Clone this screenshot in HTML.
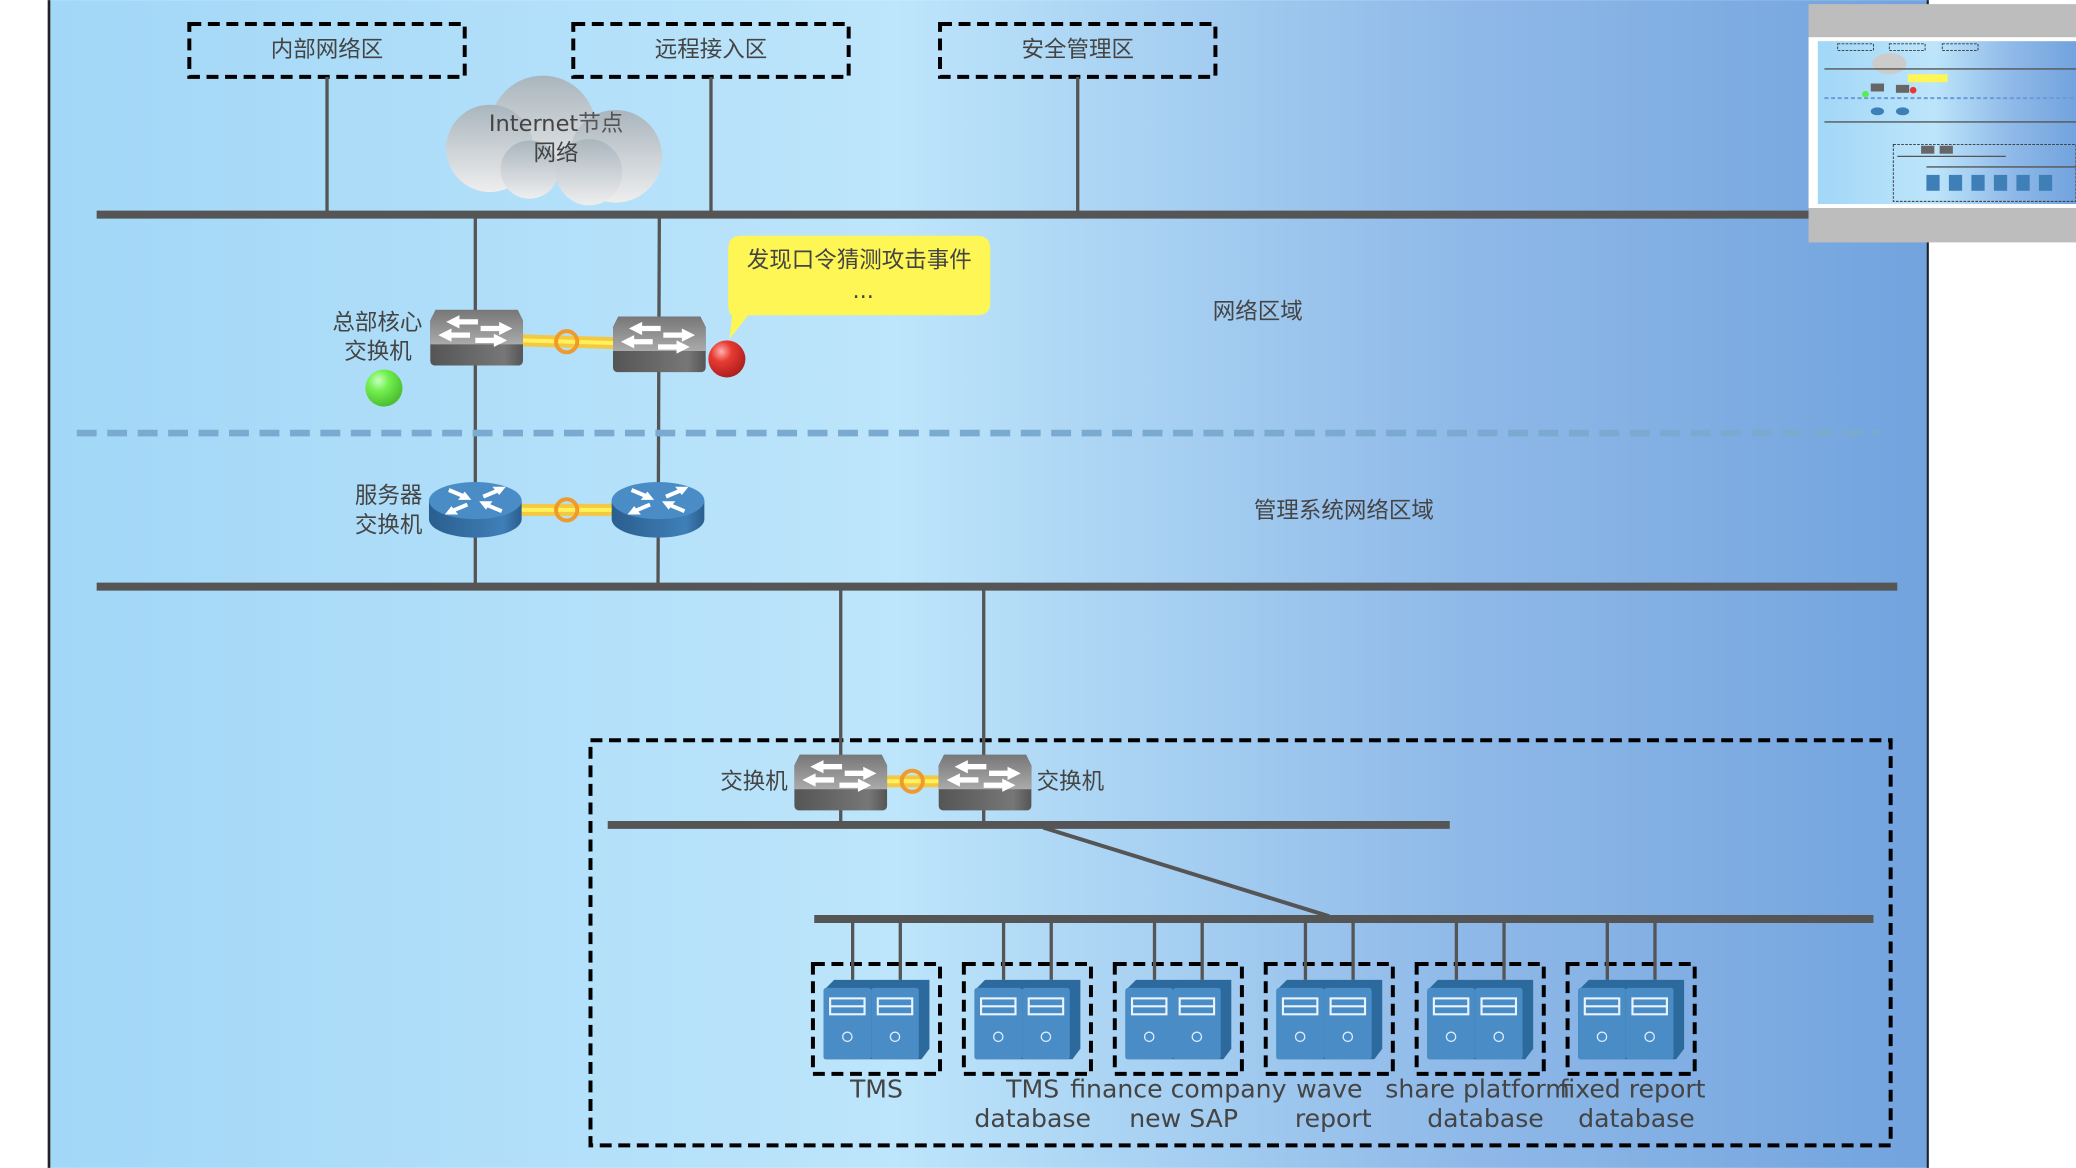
<!DOCTYPE html>
<html><head><meta charset="utf-8"><style>
html,body{margin:0;padding:0;background:#fff;overflow:hidden}
svg{display:block}
text{font-family:"DejaVu Sans","Liberation Sans","Noto Sans CJK SC",sans-serif;fill:#444}
</style></head><body>
<svg width="2076" height="1168" viewBox="0 0 1568 882" xmlns="http://www.w3.org/2000/svg">
<defs>
<linearGradient id="bg" x1="0" x2="1" y1="0" y2="0">
<stop offset="0" stop-color="#a2d7f7"/><stop offset="0.45" stop-color="#bde5fb"/><stop offset="0.75" stop-color="#8fb9e8"/><stop offset="1" stop-color="#72a3de"/>
</linearGradient>
<linearGradient id="cloud" x1="0" x2="0" y1="0" y2="1"><stop offset="0" stop-color="#a9b5bd"/><stop offset="1" stop-color="#eeeeee"/></linearGradient>
<linearGradient id="swtop" x1="0" x2="0" y1="0" y2="1"><stop offset="0" stop-color="#777"/><stop offset="1" stop-color="#aaa"/></linearGradient>
<linearGradient id="swside" x1="0" x2="1"><stop offset="0" stop-color="#555"/><stop offset="0.8" stop-color="#777"/><stop offset="1" stop-color="#555"/></linearGradient>
<linearGradient id="rtside" x1="0" x2="1"><stop offset="0" stop-color="#2a5e8e"/><stop offset="0.8" stop-color="#3f7fb8"/><stop offset="1" stop-color="#2a5e8e"/></linearGradient>
<radialGradient id="green" cx="0.35" cy="0.3" r="0.7"><stop offset="0" stop-color="#c8ffc0"/><stop offset="0.4" stop-color="#74f050"/><stop offset="1" stop-color="#4cc030"/></radialGradient>
<radialGradient id="red" cx="0.35" cy="0.3" r="0.7"><stop offset="0" stop-color="#ffb0b0"/><stop offset="0.4" stop-color="#e83a30"/><stop offset="1" stop-color="#b02020"/></radialGradient>
<g id="sw">
<path d="M4 0 H66 L70 8 V38 Q70 42 66 42 H4 Q0 42 0 38 V8 Z" fill="url(#swside)"/>
<path d="M4 0 H66 L70 8 V26 H0 V8 Z" fill="url(#swtop)"/>
<g fill="#fff">
<polygon points="12,9 22,4 22,7 36,7 36,11 22,11 22,14"/>
<polygon points="6,19 16,14 16,17 30,17 30,21 16,21 16,24"/>
<polygon points="62,14 52,9 52,12 38,12 38,16 52,16 52,19"/>
<polygon points="58,23 48,18 48,21 34,21 34,25 48,25 48,28"/>
</g></g>
<g id="rt">
<path d="M-35 0 V14 A35 14 0 0 0 35 14 V0 Z" fill="url(#rtside)"/>
<ellipse cx="0" cy="0" rx="35" ry="14" fill="#4a8cc6"/>
<g stroke="#fff" stroke-width="3" fill="#fff">
<line x1="-20" y1="-8" x2="-8" y2="-3"/><polygon points="-4,-1 -12,-1 -8,-6" stroke-width="1"/>
<line x1="20" y1="8" x2="8" y2="3"/><polygon points="4,1 12,1 8,6" stroke-width="1"/>
<line x1="6" y1="-3" x2="18" y2="-8"/><polygon points="22,-10 14,-10 18,-5" stroke-width="1"/>
<line x1="-6" y1="3" x2="-18" y2="8"/><polygon points="-22,10 -14,10 -18,5" stroke-width="1"/>
</g></g>
<g id="srv">
<path d="M0 10 L8 2 H44 L44 54 L38 62 H2 Q0 62 0 60 Z" fill="#2c6a9e"/>
<rect x="0" y="8" width="36" height="54" rx="2" fill="#4a8cc6"/>
<rect x="5" y="16" width="26" height="12" fill="none" stroke="#eaf4ff" stroke-width="1.6"/>
<line x1="5" y1="22" x2="31" y2="22" stroke="#eaf4ff" stroke-width="1.6"/>
<circle cx="18" cy="45" r="3.5" fill="none" stroke="#dcecff" stroke-width="1"/>
</g>
</defs>
<rect x="37" y="0" width="1420" height="882" fill="url(#bg)"/>
<line x1="37" y1="0" x2="37" y2="882" stroke="#222" stroke-width="2"/>
<line x1="1456" y1="0" x2="1456" y2="882" stroke="#222" stroke-width="1.5"/>

<g fill="none" stroke="#000" stroke-width="3" stroke-dasharray="9,5">
<rect x="143" y="18" width="208" height="40"/>
<rect x="433" y="18" width="208" height="40"/>
<rect x="710" y="18" width="208" height="40"/>
<rect x="446" y="559" width="982" height="306"/>
<rect x="614" y="728" width="96" height="83"/>
<rect x="728" y="728" width="96" height="83"/>
<rect x="842" y="728" width="96" height="83"/>
<rect x="956" y="728" width="96" height="83"/>
<rect x="1070" y="728" width="96" height="83"/>
<rect x="1184" y="728" width="96" height="83"/>
</g>
<g font-size="17" text-anchor="middle">
<text x="247" y="43">内部网络区</text><text x="537" y="43">远程接入区</text><text x="814" y="43">安全管理区</text>
</g>

<g fill="url(#cloud)">
<circle cx="410" cy="97" r="40"/><circle cx="370" cy="112" r="33"/><circle cx="465" cy="118" r="35"/><circle cx="400" cy="128" r="22"/><circle cx="445" cy="130" r="25"/>
</g>
<text x="420" y="99" font-size="17" text-anchor="middle" fill="#333">Internet<tspan fill="#555">节点</tspan></text>
<text x="420" y="121" font-size="17" text-anchor="middle" fill="#555">网络</text>

<g stroke="#555" stroke-width="2.5">
<line x1="247" y1="58" x2="247" y2="162"/><line x1="537" y1="58" x2="537" y2="162"/><line x1="814" y1="58" x2="814" y2="162"/>
<line x1="359" y1="162" x2="359" y2="443"/><line x1="498" y1="162" x2="497" y2="443"/>
<line x1="635" y1="443" x2="635" y2="620"/><line x1="743" y1="443" x2="743" y2="620"/>
<line x1="788" y1="625" x2="1004" y2="692" stroke-width="3"/>
<line x1="644" y1="694" x2="644" y2="740"/><line x1="680" y1="694" x2="680" y2="740"/>
<line x1="758" y1="694" x2="758" y2="740"/><line x1="794" y1="694" x2="794" y2="740"/>
<line x1="872" y1="694" x2="872" y2="740"/><line x1="908" y1="694" x2="908" y2="740"/>
<line x1="986" y1="694" x2="986" y2="740"/><line x1="1022" y1="694" x2="1022" y2="740"/>
<line x1="1100" y1="694" x2="1100" y2="740"/><line x1="1136" y1="694" x2="1136" y2="740"/>
<line x1="1214" y1="694" x2="1214" y2="740"/><line x1="1250" y1="694" x2="1250" y2="740"/>
</g>
<g stroke="#555" stroke-width="6">
<line x1="73" y1="162" x2="1370" y2="162"/>
<line x1="73" y1="443" x2="1433" y2="443"/>
<line x1="459" y1="623" x2="1095" y2="623"/>
<line x1="615" y1="694" x2="1415" y2="694"/>
</g>
<line x1="58" y1="327" x2="1420" y2="327" stroke="#7aaad0" stroke-width="5" stroke-dasharray="15,8"/>

<!-- links -->
<g stroke="#f5c842" stroke-width="9"><line x1="394" y1="257" x2="463" y2="259"/><line x1="394" y1="385" x2="463" y2="385"/><line x1="670" y1="590" x2="709" y2="590"/></g>
<g stroke="#fff25a" stroke-width="3"><line x1="394" y1="257" x2="463" y2="259"/><line x1="394" y1="385" x2="463" y2="385"/><line x1="670" y1="590" x2="709" y2="590"/></g>
<g fill="none" stroke="#f09a2a" stroke-width="3"><circle cx="428" cy="258" r="8"/><circle cx="428" cy="385" r="8"/><circle cx="689" cy="590" r="8"/></g>

<use href="#sw" x="325" y="234"/><use href="#sw" x="463" y="239"/>
<use href="#sw" x="600" y="570"/><use href="#sw" x="709" y="570"/>
<use href="#rt" x="359" y="378"/><use href="#rt" x="497" y="378"/>

<circle cx="290" cy="293" r="14" fill="url(#green)"/>
<circle cx="549" cy="271" r="14" fill="url(#red)"/>
<path d="M560 178 H738 Q748 178 748 188 V228 Q748 238 738 238 H565 L551 256 L553 238 Q550 238 550 228 V188 Q550 178 560 178 Z" fill="#fdf655"/>
<text x="649" y="202" font-size="17" text-anchor="middle" fill="#555">发现口令猜测攻击事件</text>
<text x="652" y="225" font-size="17" text-anchor="middle" fill="#555">...</text>

<g font-size="17" fill="#555">
<text x="319" y="249" text-anchor="end">总部核心</text><text x="311" y="271" text-anchor="end">交换机</text>
<text x="319" y="380" text-anchor="end">服务器</text><text x="319" y="402" text-anchor="end">交换机</text>
<text x="950" y="241" text-anchor="middle">网络区域</text>
<text x="1015" y="391" text-anchor="middle">管理系统网络区域</text>
<text x="595" y="596" text-anchor="end">交换机</text><text x="783" y="596">交换机</text>
</g>

<use href="#srv" x="622" y="738"/><use href="#srv" x="658" y="738"/>
<use href="#srv" x="736" y="738"/><use href="#srv" x="772" y="738"/>
<use href="#srv" x="850" y="738"/><use href="#srv" x="886" y="738"/>
<use href="#srv" x="964" y="738"/><use href="#srv" x="1000" y="738"/>
<use href="#srv" x="1078" y="738"/><use href="#srv" x="1114" y="738"/>
<use href="#srv" x="1192" y="738"/><use href="#srv" x="1228" y="738"/>

<g font-size="19" text-anchor="middle" fill="#333">
<text x="662" y="829">TMS</text>
<text x="780" y="829">TMS</text><text x="780" y="851">database</text>
<text x="890" y="829">finance company</text><text x="894" y="851">new SAP</text>
<text x="1004" y="829">wave</text><text x="1007" y="851">report</text>
<text x="1116" y="829">share platform</text><text x="1122" y="851">database</text>
<text x="1233" y="829">fixed report</text><text x="1236" y="851">database</text>
</g>

<!-- thumbnail -->
<rect x="1366" y="3" width="202" height="180" fill="#bdbdbd"/>
<rect x="1366" y="28" width="202" height="129" fill="#fff"/>
<rect x="1373" y="31" width="195" height="123" fill="url(#bg)"/>
<g fill="none" stroke="#333" stroke-width="0.7" stroke-dasharray="2,1">
<rect x="1388" y="33" width="27" height="5"/><rect x="1427" y="33" width="27" height="5"/><rect x="1467" y="33" width="27" height="5"/>
<rect x="1430" y="109" width="138" height="43"/>
</g>
<ellipse cx="1427" cy="48" rx="13" ry="8" fill="#ccc"/>
<g stroke="#555" stroke-width="1">
<line x1="1378" y1="52" x2="1568" y2="52"/><line x1="1378" y1="92" x2="1568" y2="92"/>
<line x1="1433" y1="118" x2="1515" y2="118"/><line x1="1455" y1="126" x2="1568" y2="126"/>
</g>
<line x1="1378" y1="74" x2="1568" y2="74" stroke="#6a9ad8" stroke-width="1.5" stroke-dasharray="3,2"/>
<rect x="1441" y="56" width="30" height="6" fill="#fdf655"/>
<circle cx="1409" cy="71" r="2.5" fill="#5e5"/><circle cx="1445" cy="68" r="2.5" fill="#e33"/>
<g fill="#666"><rect x="1413" y="63" width="10" height="6"/><rect x="1432" y="64" width="10" height="6"/><rect x="1451" y="110" width="10" height="6"/><rect x="1465" y="110" width="10" height="6"/></g>
<g fill="#3f7fb8"><ellipse cx="1418" cy="84" rx="5" ry="3"/><ellipse cx="1437" cy="84" rx="5" ry="3"/>
<rect x="1455" y="132" width="10" height="12"/><rect x="1472" y="132" width="10" height="12"/><rect x="1489" y="132" width="10" height="12"/><rect x="1506" y="132" width="10" height="12"/><rect x="1523" y="132" width="10" height="12"/><rect x="1540" y="132" width="10" height="12"/></g>
</svg>
</body></html>
